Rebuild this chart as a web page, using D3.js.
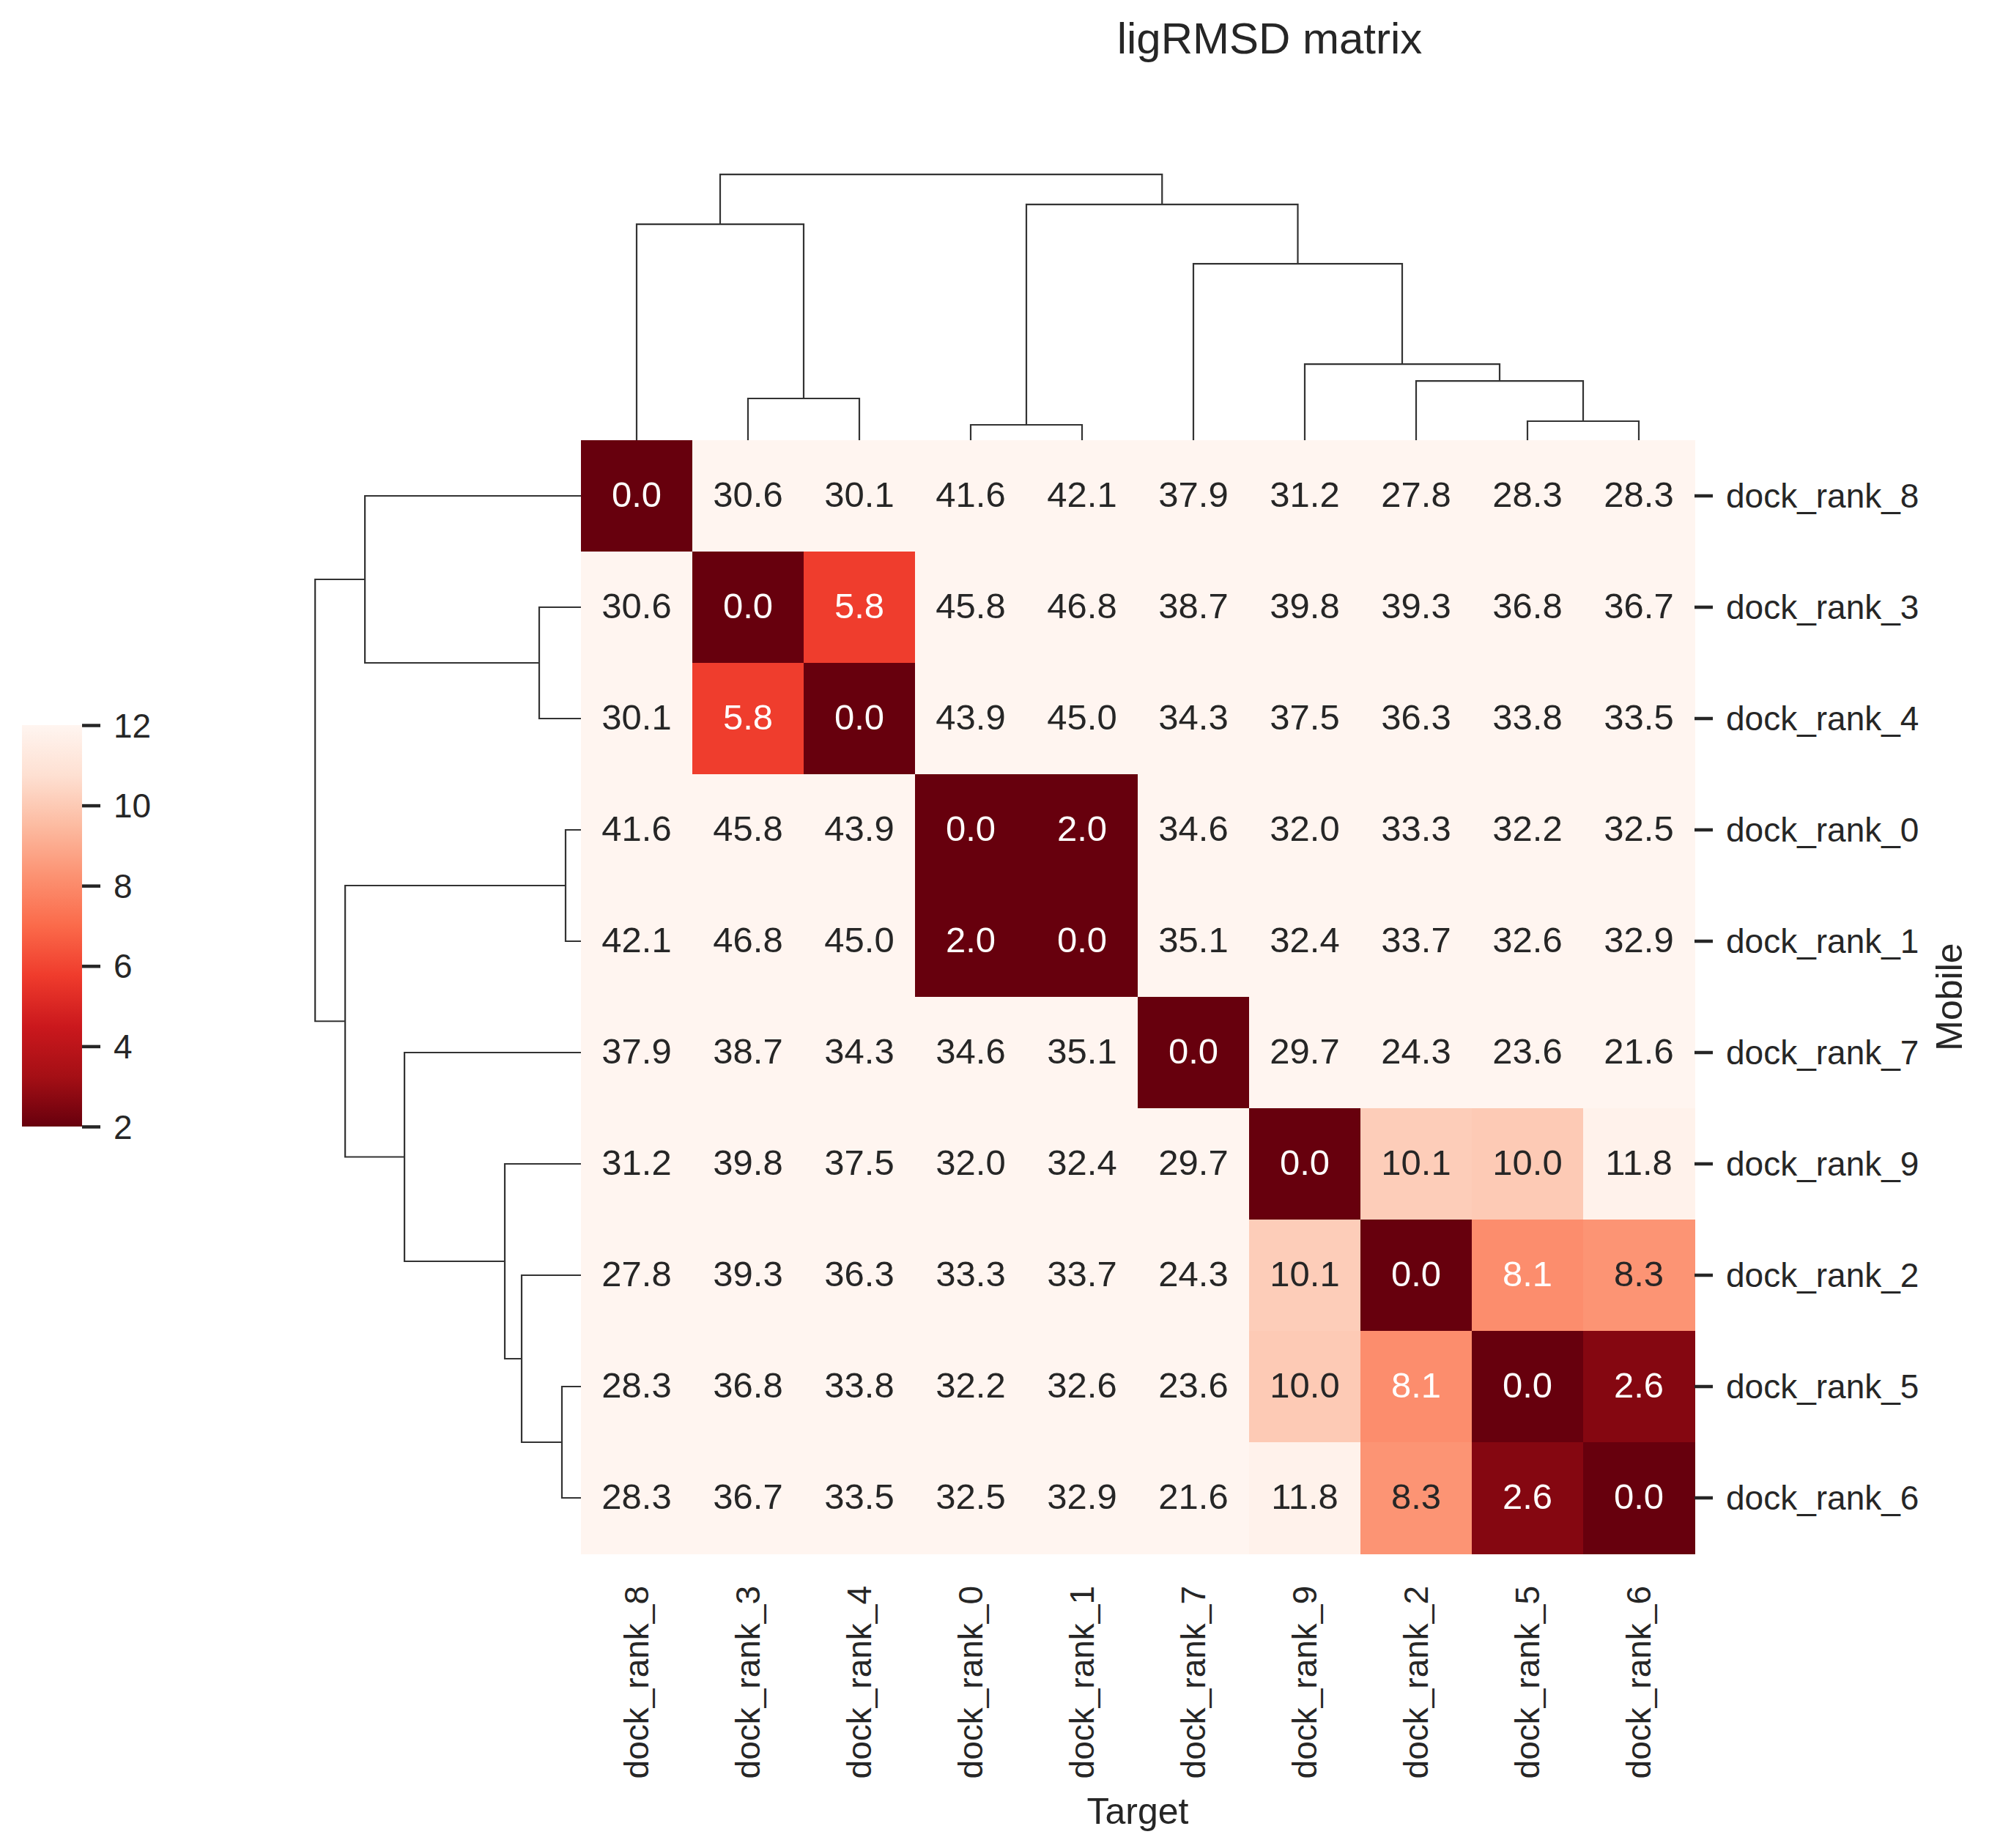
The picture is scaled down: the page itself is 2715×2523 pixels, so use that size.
<!DOCTYPE html>
<html>
<head>
<meta charset="utf-8">
<script src="https://cdn.jsdelivr.net/npm/d3@7"></script>
<style>
body { margin: 0; background: white; }
svg { display: block; font-family: "Liberation Sans", Arial, sans-serif; }
</style>
</head>
<body>
<script>
// leaf order after clustering (same for rows and columns)
var labels = ["dock_rank_8", "dock_rank_3", "dock_rank_4", "dock_rank_0", "dock_rank_1",
              "dock_rank_7", "dock_rank_9", "dock_rank_2", "dock_rank_5", "dock_rank_6"];

// ligRMSD values, rows = Mobile, columns = Target, in the order above
var rmsd = [
    [ 0.0, 30.6, 30.1, 41.6, 42.1, 37.9, 31.2, 27.8, 28.3, 28.3],
    [30.6,  0.0,  5.8, 45.8, 46.8, 38.7, 39.8, 39.3, 36.8, 36.7],
    [30.1,  5.8,  0.0, 43.9, 45.0, 34.3, 37.5, 36.3, 33.8, 33.5],
    [41.6, 45.8, 43.9,  0.0,  2.0, 34.6, 32.0, 33.3, 32.2, 32.5],
    [42.1, 46.8, 45.0,  2.0,  0.0, 35.1, 32.4, 33.7, 32.6, 32.9],
    [37.9, 38.7, 34.3, 34.6, 35.1,  0.0, 29.7, 24.3, 23.6, 21.6],
    [31.2, 39.8, 37.5, 32.0, 32.4, 29.7,  0.0, 10.1, 10.0, 11.8],
    [27.8, 39.3, 36.3, 33.3, 33.7, 24.3, 10.1,  0.0,  8.1,  8.3],
    [28.3, 36.8, 33.8, 32.2, 32.6, 23.6, 10.0,  8.1,  0.0,  2.6],
    [28.3, 36.7, 33.5, 32.5, 32.9, 21.6, 11.8,  8.3,  2.6,  0.0]
];

// linkage: [node id, child a, child b, height]; children are leaf names or earlier node ids
var linkage = [
    ["n1", "dock_rank_0", "dock_rank_1", 2.1],
    ["n2", "dock_rank_5", "dock_rank_6", 2.6],
    ["n3", "dock_rank_3", "dock_rank_4", 5.7],
    ["n4", "dock_rank_2", "n2", 8.1],
    ["n5", "dock_rank_9", "n4", 10.4],
    ["n6", "dock_rank_7", "n5", 24.1],
    ["n7", "dock_rank_8", "n3", 29.5],
    ["n8", "n1", "n6", 32.2],
    ["n9", "n7", "n8", 36.3]
];

var cbarTicks = [2, 4, 6, 8, 10, 12];
var vmin = 2, vmax = 12;
var redsColors = ["#fff5f0", "#fee0d2", "#fcbba1", "#fc9272", "#fb6a4a",
                  "#ef3b2c", "#cb181d", "#a50f15", "#67000d"];

var W = 2715, H = 2523;
var hmLeft = 793, hmTop = 601, cell = 152;
var hmRight = hmLeft + cell * labels.length, hmBottom = hmTop + cell * labels.length;
var textColor = "#262626";

var svg = d3.select("body").append("svg")
    .attr("width", W)
    .attr("height", H)

var x = d3.scaleBand().domain(labels).range([hmLeft, hmRight]);
var y = d3.scaleBand().domain(labels).range([hmTop, hmBottom]);

// Reds_r, linear between the brewer colours like matplotlib
var colorDomain = redsColors.map(function(c, i){ return vmax - i * (vmax - vmin) / (redsColors.length - 1); });
var color = d3.scaleLinear().domain(colorDomain).range(redsColors).clamp(true);

function luminance(c){
    var rgb = d3.rgb(c);
    var ch = [rgb.r, rgb.g, rgb.b].map(function(v){
        v = v / 255;
        return v <= 0.03928 ? v / 12.92 : Math.pow((v + 0.055) / 1.055, 2.4);
    });
    return 0.2126 * ch[0] + 0.7152 * ch[1] + 0.0722 * ch[2];
}

// heatmap cells
var cells = [];
rmsd.forEach(function(row, i){
    row.forEach(function(v, j){ cells.push({row: labels[i], col: labels[j], value: v}); });
});

svg.append("g").selectAll("rect")
    .data(cells)
    .enter().append("rect")
    .attr("x", function(d){ return x(d.col); })
    .attr("y", function(d){ return y(d.row); })
    .attr("width", x.bandwidth() + 0.5)
    .attr("height", y.bandwidth() + 0.5)
    .attr("fill", function(d){ return color(d.value); })
    .attr("shape-rendering", "crispEdges")

svg.append("g").selectAll("text")
    .data(cells)
    .enter().append("text")
    .attr("x", function(d){ return x(d.col) + x.bandwidth() / 2; })
    .attr("y", function(d){ return y(d.row) + y.bandwidth() / 2; })
    .attr("dy", "0.31em")
    .attr("text-anchor", "middle")
    .attr("font-size", 49)
    .attr("fill", function(d){ return luminance(color(d.value)) > 0.42 ? textColor : "white"; })
    .text(function(d){ return d.value.toFixed(1); })

// dendrograms
var maxH = d3.max(linkage, function(d){ return d[3]; }) * 1.05;
var depth = 381;
var topH = d3.scaleLinear().domain([0, maxH]).range([hmTop, hmTop - depth]);
var leftH = d3.scaleLinear().domain([0, maxH]).range([hmLeft, hmLeft - depth]);

function nodePositions(scale){
    var pos = {};
    labels.forEach(function(l){ pos[l] = {p: scale(l) + scale.bandwidth() / 2, h: 0}; });
    linkage.forEach(function(d){
        pos[d[0]] = {p: (pos[d[1]].p + pos[d[2]].p) / 2, h: d[3]};
    });
    return pos;
}

var colPos = nodePositions(x);
var rowPos = nodePositions(y);

var dendro = svg.append("g")
    .attr("fill", "none")
    .attr("stroke", "#333333")
    .attr("stroke-width", 2.2)

linkage.forEach(function(d){
    var a = colPos[d[1]], b = colPos[d[2]];
    dendro.append("path")
        .attr("d", "M" + a.p + "," + topH(a.h) + "V" + topH(d[3]) + "H" + b.p + "V" + topH(b.h))
    a = rowPos[d[1]]; b = rowPos[d[2]];
    dendro.append("path")
        .attr("d", "M" + leftH(a.h) + "," + a.p + "H" + leftH(d[3]) + "V" + b.p + "H" + leftH(b.h))
});

// axes
var yAxis = svg.append("g")
    .attr("transform", "translate(" + hmRight + ",0)")
    .call(d3.axisRight(y).tickSize(25).tickPadding(18))
yAxis.select(".domain").remove();
yAxis.selectAll("line").attr("stroke", textColor).attr("stroke-width", 4.5);
yAxis.selectAll("text")
    .attr("font-size", 46)
    .attr("font-family", "Liberation Sans, Arial, sans-serif")
    .attr("fill", textColor)
    .attr("dy", "0.35em")

var xAxis = svg.append("g")
    .attr("transform", "translate(0," + hmBottom + ")")
    .call(d3.axisBottom(x).tickSize(0))
xAxis.select(".domain").remove();
xAxis.selectAll("text")
    .attr("font-size", 46)
    .attr("font-family", "Liberation Sans, Arial, sans-serif")
    .attr("fill", textColor)
    .attr("x", 0)
    .attr("y", 0)
    .attr("dy", "0.35em")
    .attr("text-anchor", "end")
    .attr("transform", "translate(0,44) rotate(-90)")

svg.append("text")
    .attr("x", (hmLeft + hmRight) / 2)
    .attr("y", 2490)
    .attr("text-anchor", "middle")
    .attr("font-size", 50)
    .attr("fill", textColor)
    .text("Target")

svg.append("text")
    .attr("transform", "translate(2678," + (hmTop + hmBottom) / 2 + ") rotate(-90)")
    .attr("text-anchor", "middle")
    .attr("font-size", 50)
    .attr("fill", textColor)
    .text("Mobile")

svg.append("text")
    .attr("x", 1733)
    .attr("y", 73)
    .attr("text-anchor", "middle")
    .attr("font-size", 60)
    .attr("fill", textColor)
    .text("ligRMSD matrix")

// colorbar
var cbLeft = 30, cbWidth = 82, cbTop = 990, cbBottom = 1538;
var cb = d3.scaleLinear().domain([vmin, vmax]).range([cbBottom, cbTop]);

var grad = svg.append("defs").append("linearGradient")
    .attr("id", "cbgrad")
    .attr("x1", 0).attr("y1", 1).attr("x2", 0).attr("y2", 0)
grad.selectAll("stop")
    .data(colorDomain.slice().reverse())
    .enter().append("stop")
    .attr("offset", function(d){ return (d - vmin) / (vmax - vmin); })
    .attr("stop-color", function(d){ return color(d); })

svg.append("rect")
    .attr("x", cbLeft)
    .attr("y", cbTop)
    .attr("width", cbWidth)
    .attr("height", cbBottom - cbTop)
    .attr("fill", "url(#cbgrad)")

var cAxis = svg.append("g")
    .attr("transform", "translate(" + (cbLeft + cbWidth) + ",0)")
    .call(d3.axisRight(cb).tickValues(cbarTicks).tickSize(25).tickPadding(18))
cAxis.select(".domain").remove();
cAxis.selectAll("line").attr("stroke", textColor).attr("stroke-width", 4.5);
cAxis.selectAll("text")
    .attr("font-size", 46)
    .attr("font-family", "Liberation Sans, Arial, sans-serif")
    .attr("fill", textColor)
    .attr("dy", "0.35em")
</script>
</body>
</html>
